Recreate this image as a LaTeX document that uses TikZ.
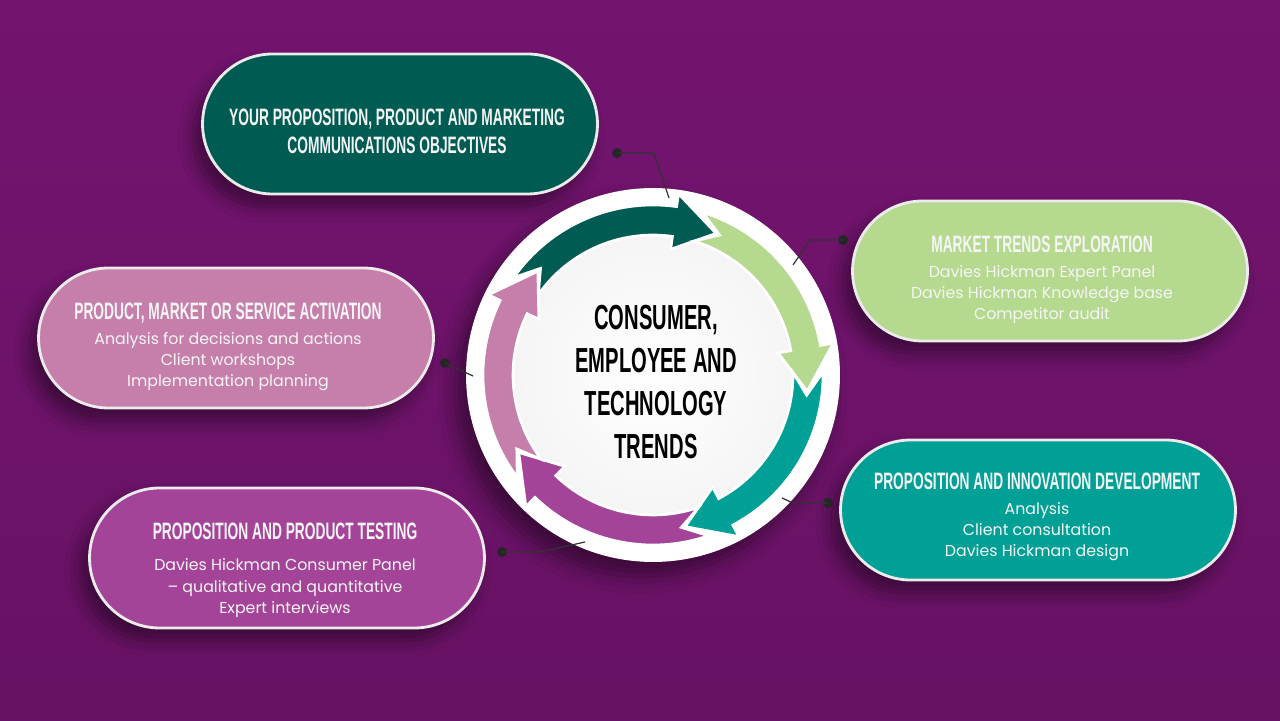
\documentclass[tikz,border=0pt]{standalone}
\usepackage{fontspec}
\setmainfont{Poppins}
\newfontfamily\headfont{Liberation Sans}[FakeStretch=0.58]
\usetikzlibrary{shadows.blur}

\definecolor{bgpurple}{RGB}{115,20,111}
\definecolor{objgreen}{RGB}{0,91,82}
\definecolor{trendgreen}{RGB}{181,217,143}
\definecolor{innovteal}{RGB}{0,160,150}
\definecolor{testpurple}{RGB}{164,68,153}
\definecolor{activpink}{RGB}{198,127,170}

\newcommand\pillhead[1]{{\headfont\bfseries\fontsize{13.5}{16}\selectfont #1}}

\tikzset{
  pill/.style={fill=#1, draw=white!92!black, line width=1.6pt,
    minimum width=7.9cm, minimum height=2.8cm, rounded corners=1.4cm,
    blur shadow={shadow xshift=-5pt, shadow yshift=-7pt,
      shadow blur radius=9pt, shadow opacity=45}},
  pilltext/.style={align=center, text=white!96!black, font=\fontsize{9}{12}\selectfont},
  dot/.style={circle, fill=black!85, inner sep=0pt, minimum size=0.2cm},
  link/.style={draw=black!80, line width=0.7pt},
}

\begin{document}
\begin{tikzpicture}[x=0.02cm, y=0.02cm]
% background
\shade[top color=bgpurple, bottom color=bgpurple!90!black] (0,0) rectangle (1280,720);
\path[use as bounding box] (0,0) rectangle (1280,720);

% hub circle
\node[circle, fill=white, minimum size=7.48cm, inner sep=0pt,
  blur shadow={shadow xshift=-6pt, shadow yshift=-8pt, shadow blur radius=10pt, shadow opacity=45}]
  (hub) at (653,345) {};
\shade[inner color=white, outer color=black!4] (hub.center) circle[radius=140];

% cycle arrows
\begin{scope}[shift={(hub.center)}]
\foreach \a/\c in {145/objgreen, 73/trendgreen, 1/innovteal, -71/testpurple, -143/activpink}
  \fill[\c, draw=white, line width=1.5pt, line join=miter]
    (\a:170) arc[start angle=\a, end angle=\a-63, radius=170]
    -- (\a-63:183) -- (\a-79:155) -- (\a-63:127) -- (\a-63:140)
    arc[start angle=\a-63, end angle=\a, radius=140]
    -- (\a-8.5:155) -- cycle;
\end{scope}

% hub text
\node[font=\headfont\bfseries\fontsize{19.8}{24.4}\selectfont, align=center] (core) at (656,338)
  {CONSUMER,\\EMPLOYEE AND\\TECHNOLOGY\\TRENDS};

% pills
\node[pill=objgreen] (obj) at (400,596) {};
\node[pill=trendgreen] (trends) at (1050,449) {};
\node[pill=innovteal] (innov) at (1038,210) {};
\node[pill=testpurple] (testing) at (287,162) {};
\node[pill=activpink] (activ) at (236,382) {};

% pill texts
\node[pilltext, font=\headfont\bfseries\fontsize{13.5}{16}\selectfont] (objtext) at (397,589)
  {YOUR PROPOSITION, PRODUCT AND MARKETING\\COMMUNICATIONS OBJECTIVES};
\node[pilltext] (trendstext) at (1042,440)
  {\pillhead{MARKET TRENDS EXPLORATION}\\[2pt]
   Davies Hickman Expert Panel\\Davies Hickman Knowledge base\\Competitor audit};
\node[pilltext] (innovtext) at (1037,203)
  {\pillhead{PROPOSITION AND INNOVATION DEVELOPMENT}\\[2pt]
   Analysis\\Client consultation\\Davies Hickman design};
\node[pilltext] (testingtext) at (285,150)
  {\pillhead{PROPOSITION AND PRODUCT TESTING}\\[6pt]
   Davies Hickman Consumer Panel\\– qualitative and quantitative\\Expert interviews};
\node[pilltext] (activtext) at (228,373)
  {\pillhead{PRODUCT, MARKET OR SERVICE ACTIVATION}\\[2pt]
   Analysis for decisions and actions\\Client workshops\\Implementation planning};

% connectors
\node[dot] (objdot) at (617,567) {};
\node[dot] (trendsdot) at (843,480) {};
\node[dot] (innovdot) at (828,217) {};
\node[dot] (testingdot) at (502,168) {};
\node[dot] (activdot) at (445,357) {};
\coordinate (objend) at (669,522);
\coordinate (trendsend) at (793,455);
\coordinate (innovend) at (782,222);
\coordinate (testingend) at (585,178);
\coordinate (activend) at (473,344);
\draw[link] (objdot.center) -- ++(37,0) -- (objend);
\draw[link] (trendsdot.center) -- ++(-33,0) -- (trendsend);
\draw[link] (innovdot.center) -- ++(-35,0) -- (innovend);
\draw[link] (testingdot.center) -- ++(38,0) -- (testingend);
\draw[link] (activdot.center) -- (activend);

\end{tikzpicture}
\end{document}
